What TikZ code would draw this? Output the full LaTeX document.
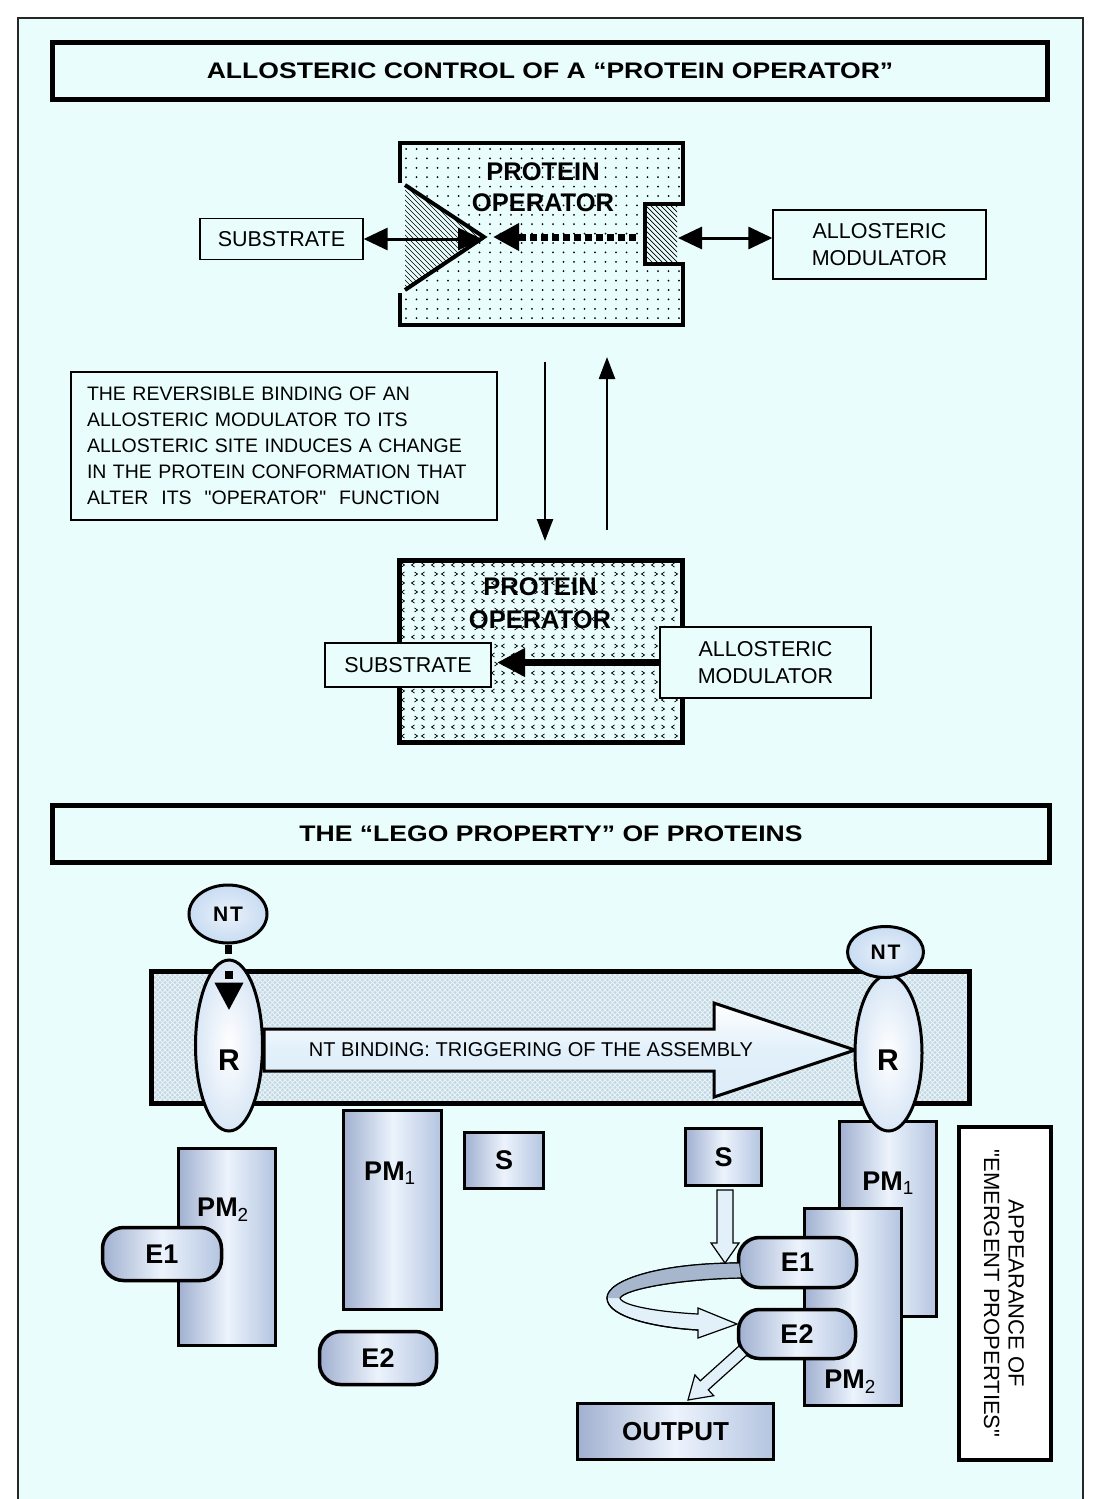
\documentclass[tikz,border=0pt]{standalone}
\usepackage{fontspec}
\setmainfont{Liberation Sans}
\usetikzlibrary{arrows.meta,shapes.geometric,calc}
\definecolor{bg}{RGB}{233,253,253}
\definecolor{sd}{RGB}{160,176,208}
\definecolor{sr}{RGB}{180,196,224}
\definecolor{sl}{RGB}{236,243,252}
\definecolor{memb}{RGB}{196,216,228}
\definecolor{membl}{RGB}{234,244,248}
\definecolor{ribd}{RGB}{165,182,205}
\definecolor{arrl}{RGB}{226,240,250}
\definecolor{ntc}{RGB}{200,220,242}
\newcommand\myfs[2]{\fontsize{#1}{#2}\selectfont}
\begin{document}
\begin{tikzpicture}[x=1pt,y=-1pt,
  thinbox/.style={draw, line width=1.3pt, fill=bg, inner sep=0pt, align=center},
  titlebox/.style={draw, line width=5pt, fill=bg, inner sep=0pt, font=\bfseries\myfs{22.5}{26}},
  shadebox/.style={draw, line width=3.5pt, left color=sd, right color=sr, middle color=sl, inner sep=0pt},
  ebox/.style={shadebox, rounded corners=21pt},
  boldlbl/.style={font=\bfseries\myfs{27}{30}, inner sep=0pt},
  blockarr/.style={fill=arrl, draw, line width=1.2pt, line join=miter},
  dblarr/.style={line width=3pt, {Triangle[length=24pt,width=22pt]}-{Triangle[length=24pt,width=22pt]}},
  vertarr/.style={line width=2.5pt, -{Triangle[length=22pt,width=16pt]}},
  regtxt/.style={font=\myfs{21.5}{27}},
]
\useasboundingbox (0,0) rectangle (1099,1499);
\fill[white] (0,0) rectangle (1099,1499);
\fill[bg] (18,18) rectangle (1083,1499);
\draw[line width=1.3pt, black!85] (18,1510) -- (18,18) -- (1083,18) -- (1083,1510);

% ---------------- titles
\node[titlebox, minimum width=995, minimum height=57] (t1) at (550,71) {\scalebox{1.18}[1]{ALLOSTERIC CONTROL OF A “PROTEIN OPERATOR”}};
\node[titlebox, minimum width=997, minimum height=57] (t2) at (551,834) {\scalebox{1.18}[1]{THE “LEGO PROPERTY” OF PROTEINS}};

% ---------------- top protein operator
\fill[bg] (400,143) -- (683,143) -- (683,204) -- (645,204) -- (645,264) -- (683,264) -- (683,325) -- (400,325) -- (400,292) -- (484,237) -- (400,183) -- cycle;
\begin{scope}
  \clip (400,143) -- (683,143) -- (683,204) -- (645,204) -- (645,264) -- (683,264) -- (683,325) -- (400,325) -- (400,292) -- (484,237) -- (400,183) -- cycle;
  \foreach \i in {0,...,27} \foreach \j in {0,...,19}
    \fill (406+10.5*\i, 149+9.4*\j) circle[radius=1pt];
\end{scope}
\begin{scope}
  \clip (405,185) -- (484,237) -- (405,290) -- cycle;
  \foreach \a in {250,255,...,490} \draw[line width=0.7pt] (\a,180) -- ++(115,115);
\end{scope}
\begin{scope}
  \clip (647,206) rectangle (677,262);
  \foreach \a in {570,575,...,680} \draw[line width=0.7pt] (\a,200) -- ++(70,70);
\end{scope}
\draw[line width=4.5pt, line join=miter] (400,183) -- (400,143) -- (683,143) -- (683,204) -- (645,204) -- (645,264) -- (683,264) -- (683,325) -- (400,325) -- (400,293);
\draw[line width=4pt, line join=miter] (405,185) -- (484,237) -- (405,290);
\node[font=\bfseries\myfs{25.5}{31}, align=center, inner sep=0pt] (op1t) at (543,187.5) {PROTEIN\\OPERATOR};

\coordinate (vtip) at (482,238);
\coordinate (site) at (636,237);
\coordinate (vin) at (493,237);
\coordinate (site2) at (678,238);

\node[thinbox, regtxt, minimum width=163, minimum height=41] (sub1) at (281.5,239) {SUBSTRATE};
\node[thinbox, regtxt, minimum width=213, minimum height=69] (mod1) at (879.5,244.5) {ALLOSTERIC\\MODULATOR};

\draw[dblarr] (sub1.east) -- (sub1.east -| vtip);
\draw[line width=7pt, dash pattern=on 7pt off 4pt, -{Triangle[length=26pt,width=26pt]}] (site) -- (vin);
\draw[dblarr] (site2) -- (site2 -| mod1.west);

% ---------------- middle
\node[thinbox, font=\myfs{19.5}{26}, align=left, minimum width=426, minimum height=148, text width=394, inner xsep=16pt] (note) at (284,446)
 {THE REVERSIBLE BINDING OF AN\\ALLOSTERIC MODULATOR TO ITS\\ALLOSTERIC SITE INDUCES A CHANGE\\IN THE PROTEIN CONFORMATION THAT\\ALTER\ \ ITS\ \ \textquotedbl OPERATOR\textquotedbl\ \ FUNCTION};

\coordinate (d1) at (545,362);
\coordinate (d2) at (545,541);
\coordinate (u1) at (607,530);
\coordinate (u2) at (607,357);
\draw[vertarr] (d1) -- (d2);
\draw[vertarr] (u1) -- (u2);

% ---------------- bottom protein operator
\fill[bg] (399,560) rectangle (682,742);
\begin{scope}
  \clip (399,560) rectangle (682,742);
  \foreach \i in {0,...,14} \foreach \j in {0,...,10} {
    \draw[line width=0.75pt] (401.5+20*\i,563+18*\j) -- ++(3,2) -- ++(-3,2);
    \draw[line width=0.75pt] (414.5+20*\i,572+18*\j) -- ++(3,2) -- ++(-3,2);
    \draw[line width=0.75pt] (414.5+20*\i,563+18*\j) -- ++(-3,2) -- ++(3,2);
    \draw[line width=0.75pt] (404.5+20*\i,572+18*\j) -- ++(-3,2) -- ++(3,2);
  }
\end{scope}
\draw[line width=5pt, line join=miter] (399,560) rectangle (682,742);
\node[font=\bfseries\myfs{25.5}{33}, align=center, inner sep=0pt] (op2t) at (540,603.5) {PROTEIN\\OPERATOR};

\node[thinbox, regtxt, minimum width=166, minimum height=44] (sub2) at (408,665) {SUBSTRATE};
\node[thinbox, font=\myfs{21.5}{27}, minimum width=211, minimum height=71] (mod2) at (765.5,662.5) {ALLOSTERIC\\MODULATOR};
\coordinate (sb) at (497,662);
\draw[line width=7pt, -{Triangle[length=28pt,width=27pt]}] (mod2.west) -- (mod2.west -| sb);

% ---------------- membrane
\fill[memb] (151,971) rectangle (969,1103);
\begin{scope}
  \clip (151,971) rectangle (969,1103);
  \foreach \a in {10,15,...,975} {
    \draw[membl, line width=0.9pt] (\a,1105) -- ++(135,-135);
    \draw[membl, line width=0.9pt] (\a,970) -- ++(135,135);
  }
\end{scope}
\draw[line width=5pt, line join=miter] (151,971) rectangle (969,1103);

% left receptor
\node[ellipse, draw, line width=3pt, inner color=white, outer color=ntc!70, minimum width=67, minimum height=171, inner sep=0pt] (RL) at (229,1045.5) {};
\node[ellipse, draw, line width=3pt, inner color=white!60!ntc, outer color=ntc, minimum width=78, minimum height=58, inner sep=0pt, font=\bfseries\myfs{21}{22}] (NTL) at (228,914) {N\hspace{2pt}T};
\draw[line width=7pt] (NTL.south) -- ++(0,9);
\draw[line width=8pt, dash pattern=on 8pt off 4pt, -{Triangle[length=28pt,width=27pt]}] ($(RL.north)+(0,12)$) -- ($(RL.north)+(0,52)$);
\node[font=\bfseries\myfs{30}{30}, inner sep=0pt] (RLt) at (229,1060) {R};

% big arrow
\begin{scope}[shift={(RL.east)}]
  \draw[line width=3pt, line join=miter, top color=white, bottom color=arrl!80!ntc, middle color=arrl]
    (0,-16.5) -- (450,-16.5) -- (450,-42.5) -- (591,4.5) -- (450,51.5) -- (450,25.5) -- (0,25.5) -- cycle;
\end{scope}
\node[font=\myfs{20}{22}, inner sep=0pt] (bind) at (531,1050) {NT BINDING: TRIGGERING OF THE ASSEMBLY};

% right assembly
\node[shadebox, minimum width=97, minimum height=195] (PM1r) at (888,1219) {};
\node[ellipse, draw, line width=3pt, inner color=white, outer color=ntc!70, minimum width=67, minimum height=156, inner sep=0pt] (RR) at (888.5,1053) {};
\node[ellipse, draw, line width=3pt, inner color=white!60!ntc, outer color=ntc, minimum width=76, minimum height=51, inner sep=0pt, font=\bfseries\myfs{21}{22}] (NTR) at (885.5,952) {N\hspace{2pt}T};
\node[font=\bfseries\myfs{30}{30}, inner sep=0pt] (RRt) at (888,1060) {R};
\node[boldlbl] (PM1rt) at (888,1183) {PM\textsubscript{\mdseries 1}};
\node[shadebox, minimum width=97, minimum height=197] (PM2r) at (853,1307) {};
\node[boldlbl] (PM2rt) at (850,1382) {PM\textsubscript{\mdseries 2}};
\node[ebox, boldlbl, minimum width=118, minimum height=50] (E1r) at (797.5,1262.5) {E1};
\node[ebox, boldlbl, minimum width=117, minimum height=49] (E2r) at (797,1334) {E2};
\node[shadebox, boldlbl, minimum width=76, minimum height=57] (Sr) at (723.5,1157) {S};
\node[shadebox, font=\bfseries\myfs{26}{28}, minimum width=196, minimum height=56] (OUT) at (675.5,1431.5) {OUTPUT};

% ribbon arrow E1 -> E2
\draw[blockarr, fill=arrl] (739,1263) .. controls (660,1263) and (607,1280) .. (607,1298) .. controls (607,1318) and (660,1328) .. (698,1330) -- (698,1338) -- (737,1324) -- (698,1308) -- (698,1314) .. controls (660,1312) and (622,1306) .. (620,1298) .. controls (625,1289) and (680,1279) .. (741,1278) -- cycle;
\fill[ribd] (739,1263) .. controls (660,1263) and (607,1280) .. (607,1298) -- (620,1298) .. controls (625,1289) and (680,1279) .. (741,1278) -- cycle;
\draw[line width=1.2pt] (739,1263) .. controls (660,1263) and (607,1280) .. (607,1298) .. controls (607,1318) and (660,1328) .. (698,1330);
\draw[line width=1.2pt] (620,1298) .. controls (625,1289) and (680,1279) .. (741,1278);
% S -> E1
\draw[blockarr] (717,1190) -- (717,1243) -- (711,1243) -- (725,1263) -- (739,1243) -- (733,1243) -- (733,1190) -- cycle;
% E2 -> OUTPUT
\draw[blockarr] (739.0,1346.0) -- (700.3,1380.8) -- (694.9,1374.9) -- (688,1400) -- (713.7,1395.7) -- (708.3,1389.8) -- (747.0,1355.0) -- cycle;

% emergent box
\node[draw, line width=4.5pt, fill=white, minimum width=92, minimum height=333, inner sep=0pt] (EMB) at (1005,1293.5) {};
\node[rotate=-90, align=center, font=\myfs{22}{24.5}, inner sep=0pt] (EMBt) at (1004,1293.5) {APPEARANCE OF\\\textquotedbl EMERGENT PROPERTIES\textquotedbl};

% left loose pieces
\node[shadebox, minimum width=97, minimum height=197] (PM2l) at (227,1247) {};
\node[boldlbl] (PM2lt) at (223,1210) {PM\textsubscript{\mdseries 2}};
\node[ebox, boldlbl, minimum width=119, minimum height=53] (E1l) at (162,1254) {E1};
\node[shadebox, minimum width=98, minimum height=199] (PM1m) at (392.5,1210) {};
\node[boldlbl] (PM1mt) at (390,1173) {PM\textsubscript{\mdseries 1}};
\node[shadebox, boldlbl, minimum width=79, minimum height=56] (Sm) at (504,1160.5) {S};
\node[ebox, boldlbl, minimum width=117, minimum height=53] (E2m) at (378,1358) {E2};
\end{tikzpicture}
\end{document}
